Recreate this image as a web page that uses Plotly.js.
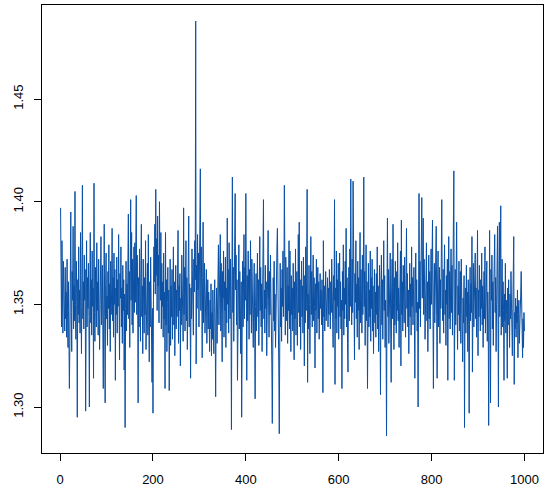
<!DOCTYPE html>
<html>
<head>
<meta charset="utf-8">
<script src="https://cdn.plot.ly/plotly-3.0.1.min.js"></script>
<style>html,body{margin:0;padding:0;background:#fff;}#chart{width:550px;height:490px;}</style>
</head>
<body>
<div id="chart"></div>
<script>
// Series values read (estimated) from the reference, index 1..1000
var seriesValues = [
1.397,1.352,1.339,1.381,1.344,1.336,1.371,1.348,1.362,1.337,1.368,1.343,1.356,1.334,1.372,1.347,1.329,1.361,1.340,1.309,
1.331,1.358,1.395,1.346,1.327,1.366,1.352,1.388,1.338,1.359,1.342,1.405,1.350,1.333,1.371,1.355,1.295,1.362,1.345,1.378,
1.341,1.357,1.336,1.385,1.349,1.326,1.364,1.408,1.343,1.361,1.338,1.374,1.352,1.367,1.298,1.354,1.381,1.339,1.363,1.348,
1.370,1.344,1.300,1.357,1.385,1.341,1.362,1.335,1.376,1.349,1.358,1.314,1.409,1.346,1.332,1.368,1.353,1.339,1.380,1.347,
1.361,1.335,1.372,1.350,1.328,1.364,1.345,1.383,1.340,1.357,1.369,1.337,1.309,1.352,1.389,1.344,1.302,1.359,1.375,1.343,
1.354,1.330,1.366,1.348,1.379,1.338,1.360,1.327,1.371,1.345,1.356,1.387,1.342,1.363,1.334,1.375,1.350,1.367,1.313,1.358,
1.345,1.373,1.336,1.362,1.349,1.384,1.341,1.323,1.365,1.353,1.378,1.339,1.358,1.331,1.369,1.347,1.362,1.318,1.355,1.290,
1.348,1.371,1.337,1.360,1.345,1.376,1.394,1.343,1.366,1.329,1.357,1.401,1.352,1.385,1.340,1.372,1.336,1.361,1.378,1.346,
1.380,1.351,1.367,1.403,1.345,1.374,1.358,1.302,1.363,1.339,1.377,1.349,1.332,1.368,1.389,1.344,1.359,1.326,1.372,1.350,
1.336,1.363,1.345,1.381,1.328,1.357,1.342,1.370,1.335,1.384,1.347,1.322,1.361,1.339,1.373,1.331,1.355,1.312,1.348,1.297,
1.352,1.378,1.361,1.389,1.355,1.406,1.364,1.382,1.347,1.393,1.359,1.374,1.341,1.400,1.366,1.352,1.385,1.338,1.370,1.349,
1.361,1.334,1.375,1.343,1.356,1.309,1.385,1.340,1.362,1.327,1.351,1.368,1.336,1.357,1.308,1.346,1.372,1.330,1.359,1.344,
1.367,1.333,1.354,1.378,1.340,1.361,1.325,1.350,1.369,1.338,1.357,1.344,1.371,1.386,1.331,1.359,1.347,1.365,1.320,1.353,
1.340,1.374,1.349,1.361,1.332,1.397,1.345,1.368,1.337,1.356,1.381,1.342,1.363,1.328,1.370,1.351,1.393,1.339,1.360,1.346,
1.314,1.358,1.343,1.377,1.352,1.366,1.335,1.372,1.356,1.381,1.362,1.488,1.321,1.369,1.348,1.384,1.357,1.375,1.339,1.366,
1.352,1.416,1.347,1.378,1.359,1.324,1.363,1.390,1.341,1.358,1.370,1.336,1.355,1.344,1.367,1.331,1.350,1.362,1.338,1.356,
1.343,1.327,1.352,1.338,1.360,1.325,1.346,1.333,1.357,1.340,1.326,1.349,1.362,1.336,1.305,1.344,1.358,1.331,1.365,1.347,
1.379,1.340,1.363,1.352,1.384,1.337,1.370,1.345,1.322,1.366,1.353,1.376,1.334,1.361,1.347,1.373,1.329,1.358,1.341,1.392,
1.350,1.367,1.336,1.380,1.355,1.343,1.372,1.348,1.289,1.359,1.412,1.346,1.368,1.332,1.363,1.351,1.404,1.357,1.374,1.340,
1.362,1.313,1.356,1.345,1.379,1.338,1.366,1.350,1.326,1.361,1.295,1.348,1.371,1.339,1.357,1.384,1.343,1.368,1.352,1.404,
1.358,1.313,1.364,1.342,1.376,1.350,1.333,1.367,1.345,1.381,1.356,1.336,1.372,1.348,1.360,1.329,1.353,1.370,1.341,1.304,
1.349,1.365,1.337,1.358,1.375,1.344,1.362,1.330,1.355,1.383,1.347,1.368,1.339,1.360,1.327,1.351,1.372,1.401,1.343,1.357,
1.336,1.369,1.348,1.361,1.325,1.354,1.340,1.386,1.352,1.334,1.366,1.345,1.374,1.338,1.359,1.321,1.292,1.350,1.363,1.342,
1.371,1.337,1.355,1.329,1.360,1.346,1.378,1.387,1.341,1.364,1.318,1.287,1.353,1.370,1.339,1.358,1.332,1.367,1.349,1.376,
1.344,1.362,1.408,1.350,1.335,1.373,1.356,1.342,1.368,1.331,1.359,1.347,1.381,1.338,1.376,1.353,1.327,1.364,1.345,1.358,
1.337,1.370,1.349,1.323,1.361,1.343,1.377,1.335,1.356,1.366,1.330,1.352,1.384,1.346,1.390,1.339,1.362,1.328,1.355,1.371,
1.344,1.359,1.336,1.373,1.351,1.320,1.364,1.341,1.378,1.347,1.361,1.406,1.312,1.355,1.338,1.369,1.350,1.326,1.357,1.383,
1.345,1.366,1.339,1.358,1.374,1.342,1.363,1.349,1.319,1.360,1.347,1.372,1.336,1.355,1.368,1.343,1.361,1.333,1.352,1.365,
1.348,1.357,1.340,1.362,1.351,1.307,1.381,1.344,1.359,1.337,1.353,1.366,1.342,1.356,1.348,1.363,1.339,1.358,1.345,1.367,
1.350,1.338,1.361,1.346,1.372,1.341,1.355,1.329,1.364,1.352,1.401,1.311,1.358,1.343,1.376,1.336,1.362,1.349,1.370,1.333,
1.356,1.375,1.344,1.361,1.338,1.352,1.309,1.366,1.347,1.379,1.335,1.358,1.343,1.371,1.350,1.387,1.339,1.363,1.331,1.317,
1.354,1.368,1.342,1.377,1.349,1.411,1.357,1.340,1.372,1.346,1.410,1.362,1.338,1.323,1.365,1.351,1.381,1.343,1.360,1.334,
1.371,1.347,1.363,1.328,1.356,1.385,1.341,1.367,1.352,1.336,1.374,1.345,1.360,1.412,1.349,1.366,1.330,1.358,1.379,1.342,
1.361,1.309,1.355,1.370,1.339,1.357,1.344,1.376,1.332,1.363,1.348,1.372,1.337,1.359,1.326,1.352,1.367,1.341,1.356,1.334,
1.365,1.345,1.378,1.338,1.359,1.327,1.351,1.369,1.343,1.306,1.357,1.374,1.340,1.362,1.333,1.355,1.381,1.347,1.364,1.329,
1.352,1.337,1.286,1.358,1.392,1.344,1.367,1.331,1.360,1.349,1.375,1.338,1.312,1.356,1.372,1.343,1.389,1.351,1.328,1.363,
1.340,1.371,1.355,1.336,1.366,1.347,1.380,1.342,1.358,1.329,1.363,1.350,1.376,1.320,1.391,1.345,1.361,1.337,1.369,1.352,
1.341,1.373,1.356,1.334,1.362,1.387,1.348,1.365,1.339,1.357,1.326,1.352,1.370,1.344,1.360,1.335,1.378,1.349,1.363,1.340,
1.355,1.368,1.343,1.314,1.358,1.375,1.346,1.362,1.337,1.351,1.300,1.366,1.404,1.348,1.371,1.339,1.357,1.384,1.402,1.353,
1.367,1.392,1.345,1.372,1.358,1.333,1.364,1.349,1.380,1.342,1.361,1.327,1.355,1.374,1.343,1.366,1.338,1.359,1.377,1.350,
1.363,1.391,1.347,1.309,1.357,1.370,1.341,1.365,1.352,1.388,1.344,1.314,1.360,1.376,1.339,1.356,1.368,1.331,1.362,1.348,
1.373,1.401,1.354,1.342,1.367,1.336,1.361,1.379,1.345,1.357,1.330,1.364,1.350,1.372,1.313,1.358,1.383,1.343,1.366,1.338,
1.360,1.377,1.346,1.369,1.335,1.356,1.381,1.415,1.313,1.352,1.367,1.340,1.362,1.390,1.348,1.328,1.359,1.345,1.371,1.337,
1.355,1.366,1.331,1.372,1.349,1.360,1.322,1.353,1.341,1.364,1.290,1.347,1.358,1.336,1.369,1.344,1.356,1.327,1.362,1.340,
1.297,1.351,1.368,1.342,1.360,1.346,1.383,1.317,1.355,1.370,1.339,1.362,1.348,1.375,1.343,1.358,1.334,1.365,1.386,1.325,
1.357,1.344,1.369,1.351,1.337,1.362,1.348,1.375,1.340,1.359,1.329,1.354,1.366,1.343,1.378,1.336,1.360,1.347,1.371,1.332,
1.356,1.343,1.291,1.360,1.386,1.345,1.302,1.367,1.352,1.374,1.338,1.361,1.330,1.357,1.369,1.384,1.346,1.363,1.327,1.354,
1.341,1.388,1.350,1.300,1.362,1.390,1.344,1.366,1.398,1.335,1.358,1.372,1.339,1.361,1.347,1.313,1.355,1.342,1.370,1.336,
1.352,1.345,1.314,1.358,1.340,1.362,1.347,1.329,1.355,1.343,1.366,1.337,1.351,1.325,1.348,1.360,1.383,1.311,1.346,1.338,
1.353,1.334,1.349,1.341,1.357,1.324,1.345,1.352,1.331,1.348,1.339,1.355,1.366,1.336,1.350,1.324,1.343,1.329,1.346,1.337
];
var seriesIndex = seriesValues.map(function(v, i){ return i + 1; });

var xTickValues = [0, 200, 400, 600, 800, 1000];
var xTickLabels = ['0', '200', '400', '600', '800', '1000'];
var yTickValues = [1.30, 1.35, 1.40, 1.45];
var yTickLabels = ['1.30', '1.35', '1.40', '1.45'];

var fontFamily = 'Liberation Sans, Arial, Helvetica, sans-serif';

var trace = {
  x: seriesIndex,
  y: seriesValues,
  type: 'scatter',
  mode: 'lines',
  line: {color: '#0a50a5', width: 1},
  hoverinfo: 'x+y'
};

var axisCommon = {
  showgrid: false,
  zeroline: false,
  showline: true,
  mirror: true,
  linecolor: '#000',
  linewidth: 1,
  ticks: 'outside',
  ticklen: 7,
  tickwidth: 1,
  tickcolor: '#000',
  tickfont: {family: fontFamily, size: 13, color: '#000'}
};

var layout = {
  width: 550,
  height: 490,
  margin: {l: 42, r: 7, t: 5, b: 37, pad: 0},
  paper_bgcolor: '#fff',
  plot_bgcolor: '#fff',
  showlegend: false,
  xaxis: Object.assign({}, axisCommon, {
    range: [-39, 1040],
    tickmode: 'array',
    tickvals: xTickValues,
    ticktext: xTickLabels,
    ticklabelstandoff: 7
  }),
  yaxis: Object.assign({}, axisCommon, {
    range: [1.2776, 1.4958],
    tickmode: 'array',
    tickvals: yTickValues,
    ticktext: yTickLabels,
    tickangle: -90,
    ticklabelstandoff: 6
  })
};

Plotly.newPlot('chart', [trace], layout, {displayModeBar: false, staticPlot: true});
</script>
</body>
</html>
